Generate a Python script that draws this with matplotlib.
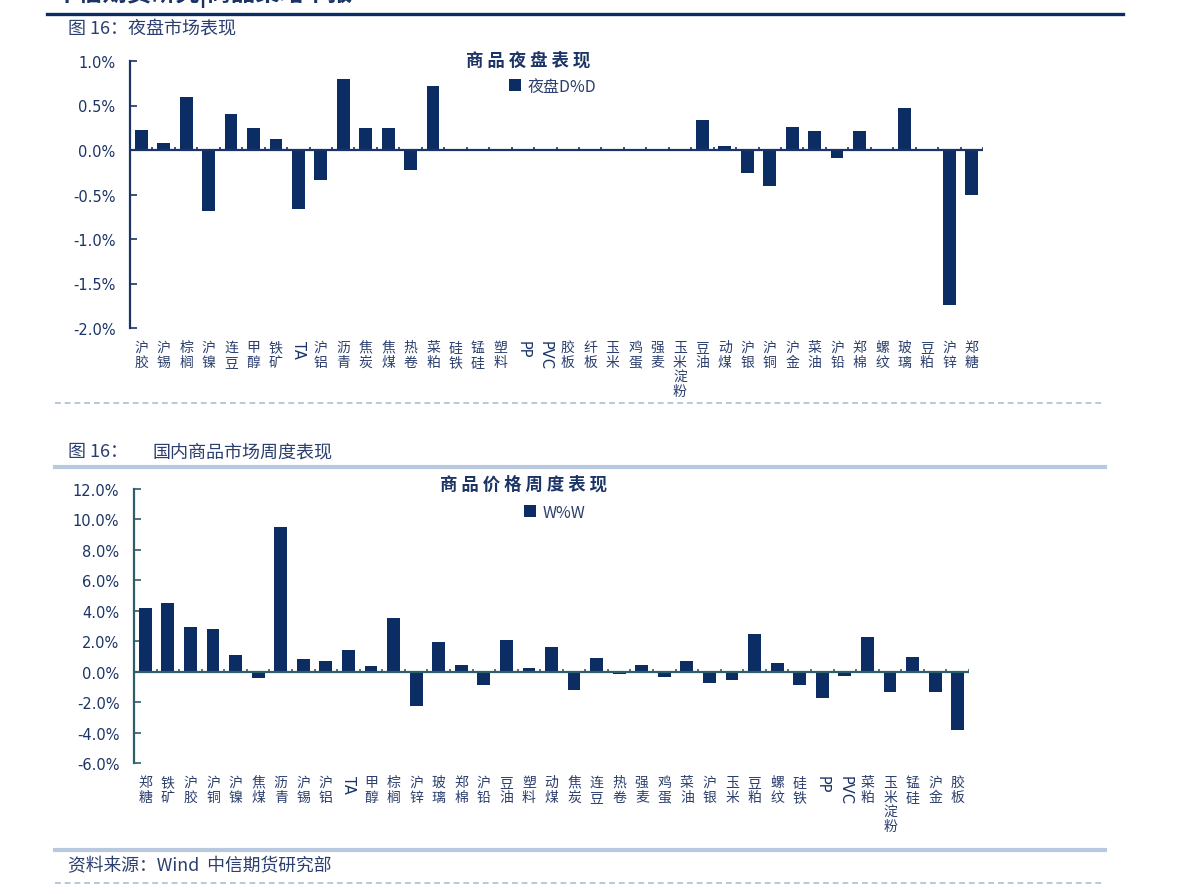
import matplotlib
matplotlib.use("Agg")
import matplotlib.pyplot as plt
from matplotlib.lines import Line2D
import numpy as np

plt.rcParams['font.family'] = ['Noto Sans CJK SC', 'DejaVu Sans']

# ---------------- data ----------------
night_categories = ['沪胶', '沪锡', '棕榈', '沪镍', '连豆', '甲醇', '铁矿', 'TA', '沪铝', '沥青',
                    '焦炭', '焦煤', '热卷', '菜粕', '硅铁', '锰硅', '塑料', 'PP', 'PVC', '胶板',
                    '纤板', '玉米', '鸡蛋', '强麦', '玉米淀粉', '豆油', '动煤', '沪银', '沪铜', '沪金',
                    '菜油', '沪铅', '郑棉', '螺纹', '玻璃', '豆粕', '沪锌', '郑糖']
night_values = [0.22, 0.08, 0.59, -0.69, 0.40, 0.25, 0.12, -0.66, -0.34, 0.80,
                0.25, 0.25, -0.22, 0.72, 0.0, 0.0, 0.0, 0.0, 0.0, 0.0,
                0.0, 0.0, 0.0, 0.0, 0.0, 0.34, 0.05, -0.26, -0.41, 0.26,
                0.21, -0.09, 0.21, 0.0, 0.47, 0.0, -1.74, -0.51]
night_yticks = [-2.0, -1.5, -1.0, -0.5, 0.0, 0.5, 1.0]

week_categories = ['郑糖', '铁矿', '沪胶', '沪铜', '沪镍', '焦煤', '沥青', '沪锡', '沪铝', 'TA',
                   '甲醇', '棕榈', '沪锌', '玻璃', '郑棉', '沪铅', '豆油', '塑料', '动煤', '焦炭',
                   '连豆', '热卷', '强麦', '鸡蛋', '菜油', '沪银', '玉米', '豆粕', '螺纹', '硅铁',
                   'PP', 'PVC', '菜粕', '玉米淀粉', '锰硅', '沪金', '胶板']
week_values = [4.18, 4.51, 2.92, 2.80, 1.10, -0.43, 9.49, 0.81, 0.68, 1.45,
               0.37, 3.55, -2.27, 1.95, 0.46, -0.85, 2.05, 0.25, 1.64, -1.20,
               0.88, -0.15, 0.46, -0.37, 0.68, -0.76, -0.55, 2.48, 0.55, -0.87,
               -1.73, -0.26, 2.26, -1.31, 0.99, -1.31, -3.85]
week_yticks = [-6.0, -4.0, -2.0, 0.0, 2.0, 4.0, 6.0, 8.0, 10.0, 12.0]

night_title = '商 品 夜 盘 表 现'
night_legend = '夜盘D%D'
week_title = '商 品 价 格 周 度 表 现'
week_legend = 'W%W'

# ---------------- style ----------------
W, H = 1191, 895
BAR = '#0C2D63'
NAVY = '#1B3466'
TXT = '#2B3F6E'

fig = plt.figure(figsize=(W / 100, H / 100), dpi=100)


def fx(x):
    return x / W


def fy(y):
    return 1 - y / H


def hline(y, x0, x1, color, lw, ls='-'):
    fig.add_artist(Line2D([fx(x0), fx(x1)], [fy(y), fy(y)], color=color, lw=lw, ls=ls,
                          transform=fig.transFigure))


def make_chart(rect_px, cats, vals, yticks, fmt, spine_color, title, title_xy, leg_label, leg_xy):
    left, top, right, bottom = rect_px
    ax = fig.add_axes([fx(left), fy(bottom), fx(right - left), (bottom - top) / H])
    n = len(cats)
    x = np.arange(n)
    ax.bar(x, vals, width=0.57, color=BAR, label=leg_label, zorder=3)
    ax.set_xlim(-0.5, n - 0.5)
    ax.set_ylim(yticks[0], yticks[-1])
    ax.set_yticks(yticks)
    ax.set_yticklabels([fmt.format(v) for v in yticks], fontsize=10.5, color=NAVY,
                       family='DejaVu Sans')
    ax.tick_params(axis='y', direction='in', length=5, width=1.2, color=spine_color, pad=10.5)
    for s in ['top', 'right', 'bottom']:
        ax.spines[s].set_visible(False)
    ax.spines['left'].set_color(spine_color)
    ax.spines['left'].set_linewidth(1.6)
    ax.set_xticks([])
    # zero axis line with boundary ticks
    span = yticks[-1] - yticks[0]
    th = span * 3.0 / (bottom - top)
    ax.axhline(0, color=spine_color, lw=1.6, zorder=4)
    bounds = np.arange(n + 1) - 0.5
    ax.vlines(bounds[1:], 0, th, color=spine_color, lw=1.2, zorder=4)
    # category labels (vertical stacking)
    trans = ax.get_xaxis_transform()
    ylab = -12.0 / (bottom - top)
    for i, c in enumerate(cats):
        if all(ord(ch) < 128 for ch in c):
            ax.text(i, ylab, c, transform=trans, rotation=-90, ha='center', va='top',
                    fontsize=10.5, color=NAVY, family='DejaVu Sans')
        else:
            ax.text(i, ylab, '\n'.join(c), transform=trans, ha='center', va='top',
                    fontsize=10, color=TXT, linespacing=1.06)
    fig.text(fx(title_xy[0]), fy(title_xy[1]), title, ha='center', va='center',
             fontsize=12.5, fontweight='bold', color=NAVY)
    ax.legend(loc='center left', bbox_to_anchor=(fx(leg_xy[0]), fy(leg_xy[1])),
              bbox_transform=fig.transFigure, frameon=False, handlelength=0.75,
              handleheight=0.75, handletextpad=0.4, borderpad=0, borderaxespad=0,
              prop={'size': 11.5}, labelcolor=TXT)
    return ax


# header (partly cut off at the top, as in the source page)
fig.text(fx(55), fy(8), '中信期货研究|商品策略早报', fontsize=17.5, fontweight='bold', color=NAVY,
         ha='left', va='bottom')
hline(15, 47, 1123, '#0C2D63', 2.4)
fig.text(fx(68), fy(29), '图 16：夜盘市场表现', fontsize=13, color=TXT, ha='left', va='center')

make_chart((130, 62, 983, 329), night_categories, night_values, night_yticks, '{:.1f}%',
           NAVY, night_title, (528, 61), night_legend, (509, 87))

hline(404, 55, 1103, '#B7C8DC', 1.4, ls=(0, (3, 2)))

fig.text(fx(68), fy(452), '图 16：', fontsize=13, color=TXT, ha='left', va='center')
fig.text(fx(152), fy(452), '国内商品市场周度表现', fontsize=13, color=TXT, ha='left', va='center')
hline(468, 55, 1105, '#B8C9DF', 3)

make_chart((134, 490, 969, 764), week_categories, week_values, week_yticks, '{:.1f}%',
           '#2F5E6B', week_title, (524, 485), week_legend, (524, 513))

hline(851, 55, 1105, '#B8C9DF', 3)
fig.text(fx(68), fy(866), '资料来源：Wind  中信期货研究部', fontsize=12.8, color=TXT,
         ha='left', va='center')
hline(884, 55, 1105, '#B7C8DC', 1.4, ls=(0, (3, 2)))

fig.savefig('out.png', dpi=100)
